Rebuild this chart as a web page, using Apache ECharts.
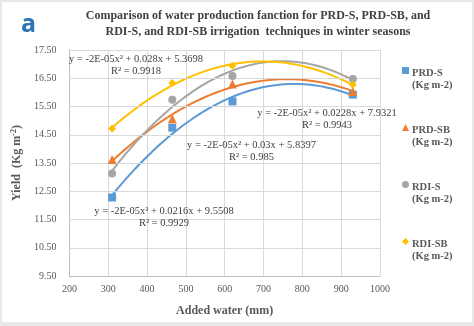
<!DOCTYPE html>
<html><head><meta charset="utf-8">
<script src="https://cdn.jsdelivr.net/npm/echarts@6/dist/echarts.min.js"></script>
<style>
html,body{margin:0;padding:0;background:#e9e9e9;}
#c{position:absolute;left:2px;top:2px;width:470px;height:320px;background:#fff;}
</style></head>
<body><div id="c"></div>
<script>
const water = [310, 465, 620, 930];
const prdS  = [12.28, 14.75, 15.68, 15.92];
const prdSB = [13.62, 15.07, 16.30, 16.03];
const rdiS  = [13.13, 15.74, 16.58, 16.47];
const rdiSB = [14.72, 16.33, 16.94, 16.27];
const xTicks = [200, 300, 400, 500, 600, 700, 800, 900, 1000];
const yTicks = [9.5, 10.5, 11.5, 12.5, 13.5, 14.5, 15.5, 16.5, 17.5];
const names = ['PRD-S\n(Kg m-2)', 'PRD-SB\n(Kg m-2)', 'RDI-S\n(Kg m-2)', 'RDI-SB\n(Kg m-2)'];
const colors = ['#5B9BD5', '#ED7D31', '#A5A5A5', '#FFC000'];
const symbols = ['rect', 'triangle', 'circle', 'diamond'];
const eqs = [
  'y = -2E-05x² + 0.0216x + 9.5508\nR² = 0.9929',
  'y = -2E-05x² + 0.0228x + 7.9321\nR² = 0.9943',
  'y = -2E-05x² + 0.03x + 5.8397\nR² = 0.985',
  'y = -2E-05x² + 0.028x + 5.3698\nR² = 0.9918'
];
const seriesVals = [prdS, prdSB, rdiS, rdiSB];

function quadFit(xs, ys) {
  let S = [0,0,0,0,0], T = [0,0,0];
  for (let i = 0; i < xs.length; i++) {
    let p = 1;
    for (let k = 0; k < 5; k++) { S[k] += p; if (k < 3) T[k] += p * ys[i]; p *= xs[i]; }
  }
  const A = [[S[0],S[1],S[2],T[0]],[S[1],S[2],S[3],T[1]],[S[2],S[3],S[4],T[2]]];
  for (let i = 0; i < 3; i++) {
    for (let j = i + 1; j < 3; j++) {
      const f = A[j][i] / A[i][i];
      for (let k = i; k < 4; k++) A[j][k] -= f * A[i][k];
    }
  }
  const c = [0,0,0];
  for (let i = 2; i >= 0; i--) {
    let s = A[i][3];
    for (let k = i + 1; k < 3; k++) s -= A[i][k] * c[k];
    c[i] = s / A[i][i];
  }
  return c;
}
function trend(xs, ys) {
  const c = quadFit(xs, ys);
  const out = [];
  for (let x = xs[0]; x <= xs[xs.length - 1]; x += 5) out.push([x, c[0] + c[1]*x + c[2]*x*x]);
  return out;
}

const serif = '"Liberation Serif","Times New Roman",serif';
const iconPaths = [
  'path://M0,0H10V10H0Z M0,34L0.1,34',
  'path://M5,0L10,10H0Z M0,34L0.1,34',
  'path://M10,5A5,5,0,1,1,0,5A5,5,0,1,1,10,5Z M0,34L0.1,34',
  'path://M5,0L10,5L5,10L0,5Z M0,34L0.1,34'
];

const series = [];
// horizontal grid lines at the tick values
series.push({
  type: 'line', name: 'grid', data: [], silent: true, z: 1,
  markLine: {
    silent: true, symbol: 'none', animation: false,
    label: {show: false},
    lineStyle: {color: '#d9d9d9', width: 1, type: 'solid'},
    data: yTicks.slice(1).map(v => ({yAxis: v}))
  }
});
seriesVals.forEach((v, i) => {
  series.push({
    type: 'line', name: 'trend' + i, data: trend(water, v), showSymbol: false, symbol: 'none',
    lineStyle: {color: colors[i], width: 2}, itemStyle: {color: colors[i]}, z: 2, silent: true
  });
});
seriesVals.forEach((v, i) => {
  series.push({
    type: 'scatter', name: names[i], data: water.map((x, j) => [x, v[j]]),
    symbol: symbols[i], symbolSize: i === 1 ? 9 : 8,
    itemStyle: {color: colors[i], opacity: 1}, z: 5
  });
});

const eqPos = [[162, 215.5], [325, 117], [249.5, 149.5], [134, 63]];
const graphics = [{
  type: 'text', left: 19, top: 10,
  style: {text: 'a', fill: '#2E75B6', font: 'bold 25px "Open Sans", sans-serif'}
}];
eqs.forEach((t, i) => {
  graphics.push({
    type: 'text', x: eqPos[i][0], y: eqPos[i][1], z: 10,
    style: {text: t, fill: '#404040', font: '10.5px ' + serif, align: 'center', verticalAlign: 'middle', lineHeight: 12}
  });
});

const chart = echarts.init(document.getElementById('c'));
chart.setOption({
  backgroundColor: '#fff',
  animation: false,
  title: {
    text: 'Comparison of water production fanction for PRD-S, PRD-SB, and\nRDI-S, and RDI-SB irrigation  techniques in winter seasons',
    left: 251, top: 1, textAlign: 'center',
    textStyle: {fontFamily: serif, fontWeight: 'bold', fontSize: 12, color: '#404040', lineHeight: 16}
  },
  grid: {left: 66, right: 92, top: 48, bottom: 45, containLabel: false},
  legend: {
    orient: 'vertical', left: 395, top: 60, itemGap: 33, itemWidth: 7, itemHeight: 24,
    data: names.map((n, i) => ({name: n, icon: iconPaths[i]})),
    textStyle: {fontFamily: serif, fontSize: 10.5, fontWeight: 'bold', color: '#595959', lineHeight: 12, padding: [0,0,0,-2]}
  },
  xAxis: {
    type: 'value', min: 200, max: 1000, interval: 100,
    name: 'Added water (mm)', nameLocation: 'middle', nameGap: 29,
    nameTextStyle: {fontFamily: serif, fontWeight: 'bold', fontSize: 12, color: '#595959'},
    axisLine: {show: true, lineStyle: {color: '#bfbfbf'}},
    axisTick: {show: false},
    axisLabel: {fontFamily: serif, fontSize: 10, color: '#595959', margin: 8, customValues: xTicks,
      formatter: v => String(v)},
    splitLine: {show: true, lineStyle: {color: '#d9d9d9'}}
  },
  yAxis: {
    type: 'value', min: 9.5, max: 17.5, interval: 1,
    name: 'Yield  (Kg m{sup|-2})', nameLocation: 'middle', nameGap: 26, nameRotate: 90,
    nameTextStyle: {fontFamily: serif, fontWeight: 'bold', fontSize: 12, color: '#595959',
      rich: {sup: {fontFamily: serif, fontWeight: 'bold', fontSize: 8, color: '#595959', verticalAlign: 'bottom', padding: [0,0,6,0]}}},
    axisLine: {show: true, lineStyle: {color: '#bfbfbf'}},
    axisTick: {show: false, customValues: yTicks},
    axisLabel: {fontFamily: serif, fontSize: 10, color: '#595959', margin: 13, customValues: yTicks,
      formatter: v => v.toFixed(2)},
    splitLine: {show: false}
  },
  graphic: graphics,
  series: series
});
</script></body></html>
